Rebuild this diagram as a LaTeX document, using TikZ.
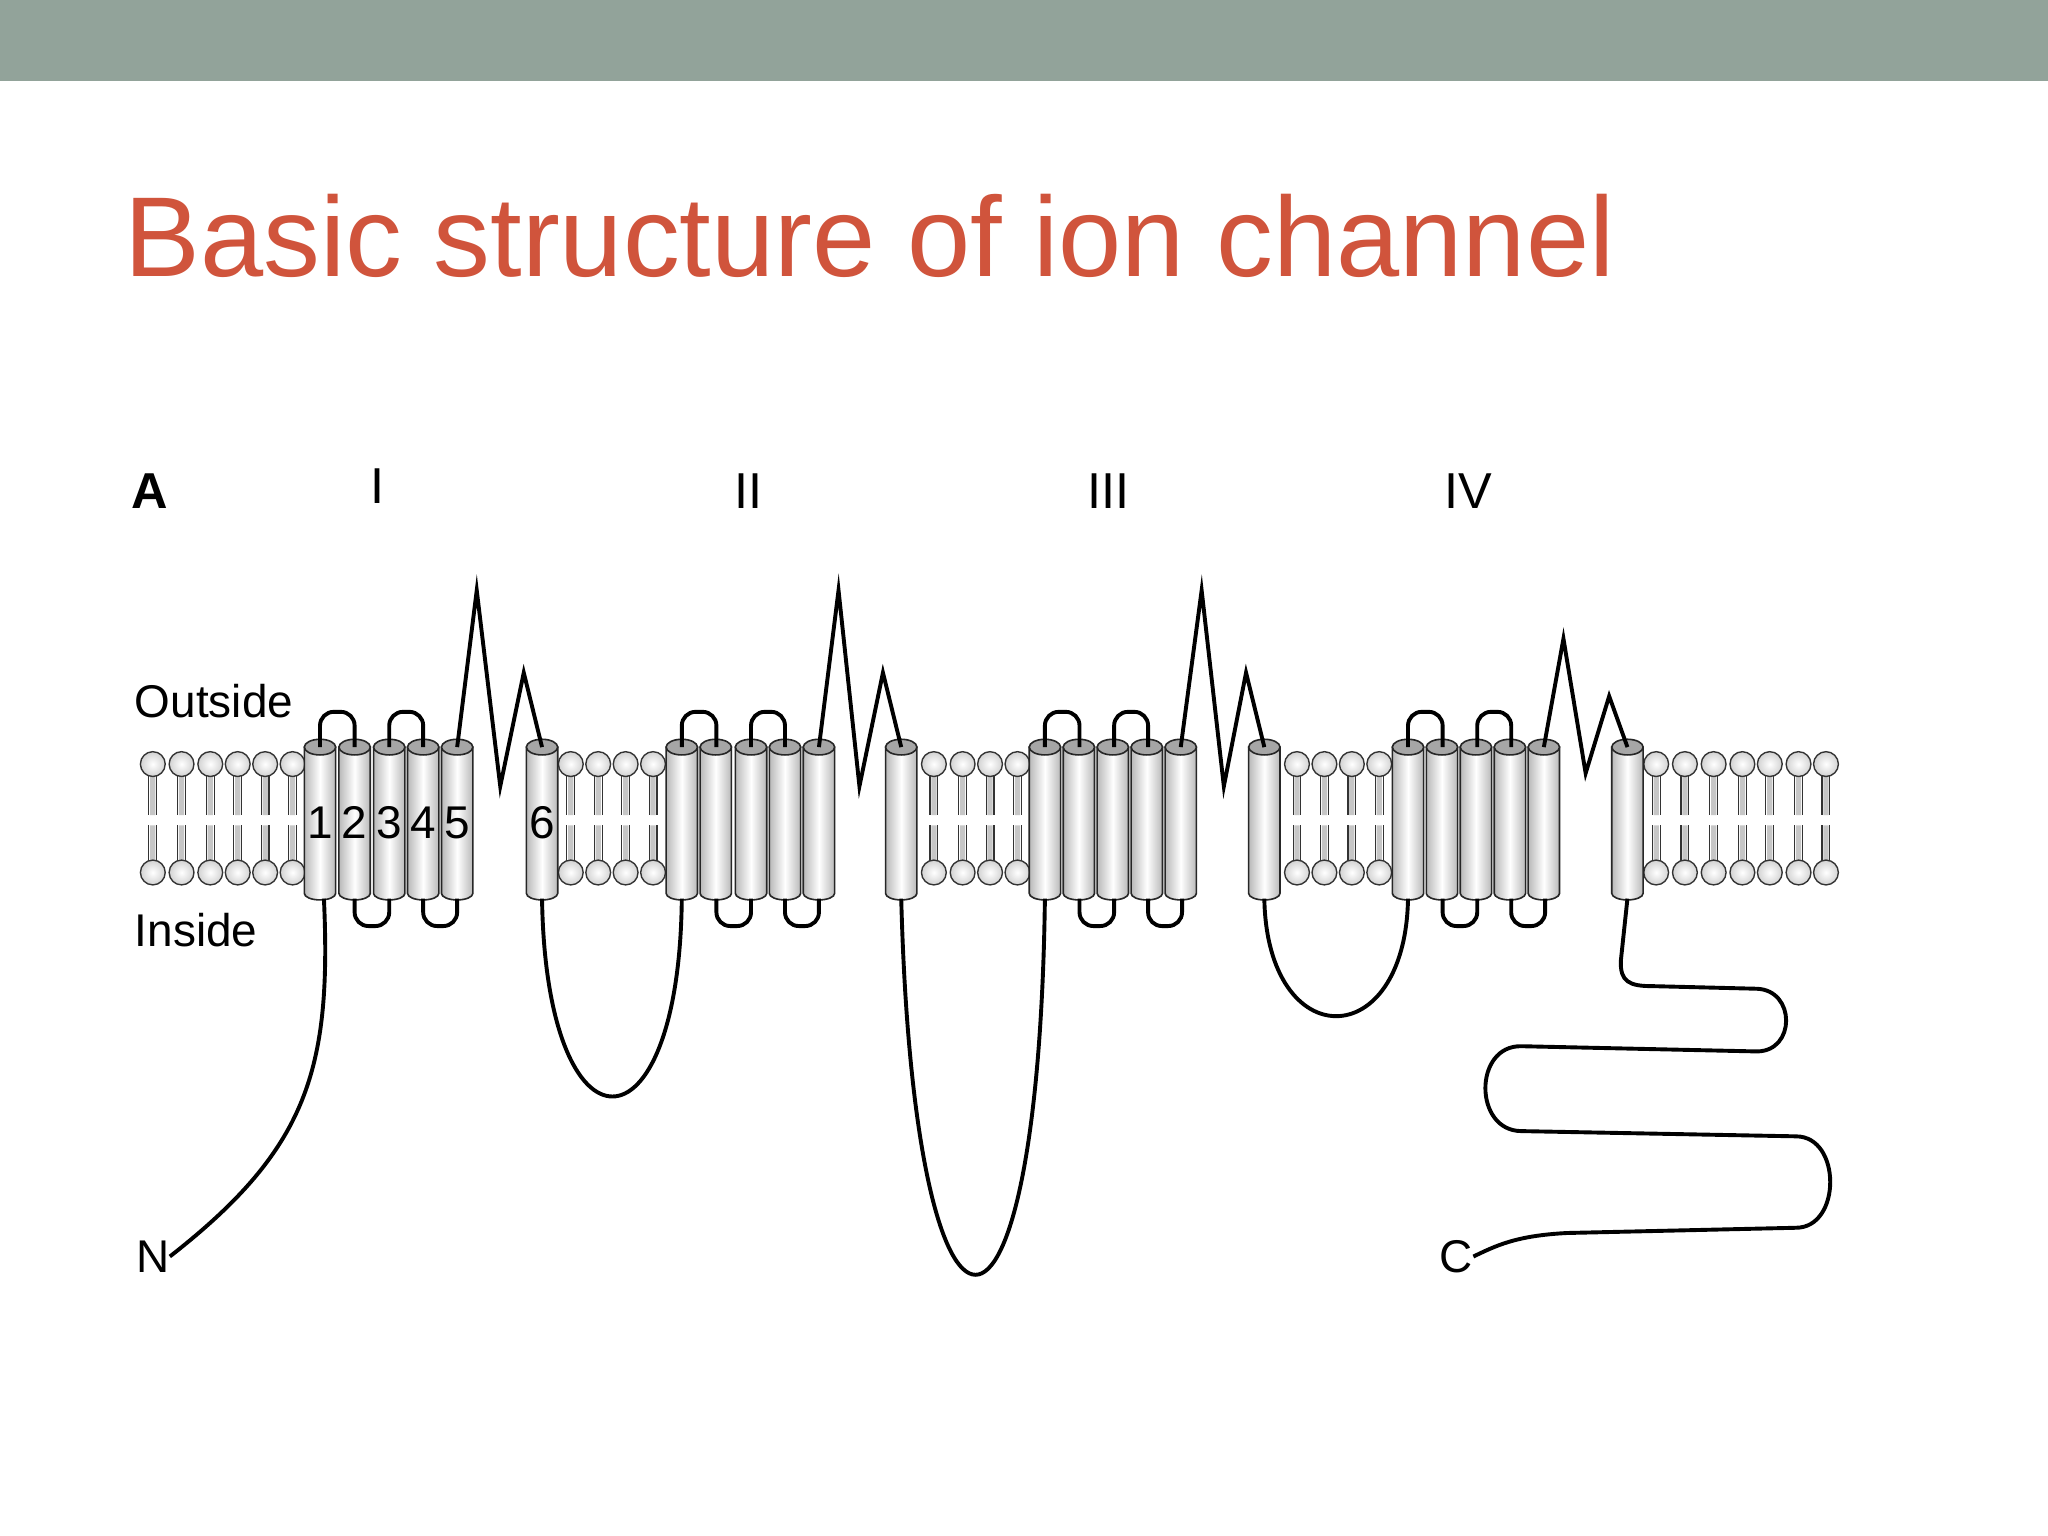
\documentclass[tikz,border=0pt]{standalone}
\usepackage{fontspec}
\setmainfont{Liberation Sans}
\definecolor{band}{RGB}{146,163,154}
\definecolor{ttl}{RGB}{208,84,60}
\begin{document}
\begin{tikzpicture}[x=0.02cm,y=-0.02cm,
  lbl/.style={font=\fontsize{20}{22}\selectfont,inner sep=0},
  loopline/.style={line width=1.7pt,line join=miter},
  head/.style={draw=black!80,line width=0.6pt,inner color=white,outer color=gray!35}]
\useasboundingbox (0,0) rectangle (1568,1176);
\fill[white] (0,0) rectangle (1568,1176);
\fill[band] (0,0) rectangle (1568,62);
\node[anchor=base west,inner sep=0,text=ttl,font=\fontsize{49.5}{55}\selectfont] (title) at (95,212) {Basic structure of ion channel};
% labels
\node[lbl,font=\fontsize{22}{24}\selectfont\bfseries] (A) at (115,376) {A};
\node[lbl,font=\fontsize{22}{24}\selectfont] (d1) at (289,372) {I};
\node[lbl,font=\fontsize{22}{24}\selectfont] (d2) at (573,376) {II};
\node[lbl,font=\fontsize{22}{24}\selectfont] (d3) at (849,376) {III};
\node[lbl,font=\fontsize{22}{24}\selectfont] (d4) at (1124,376) {IV};
\node[lbl,anchor=west] (out) at (103,537) {Outside};
\node[lbl,anchor=west] (in) at (103,712) {Inside};
\node[lbl] (N) at (117,962) {N};
\node[lbl] (C) at (1115,962) {C};
% lipids
\def\lipid#1{%
  \draw[black!80,line width=0.5pt] (#1-3,594) -- (#1-3,624) (#1+3,594) -- (#1+3,624)
     (#1-3,632) -- (#1-3,659) (#1+3,632) -- (#1+3,659);
  \fill[gray!45] (#1-2,594) rectangle (#1+2,624) (#1-2,632) rectangle (#1+2,659);
  \path[head] (#1,585) circle (9.5);
  \path[head] (#1,668) circle (9.5);}
\foreach \x in {117,139,161,182,203,224,437,458,479,500,715,737,758,779,993,1014,1035,1056,1268,1290,1312,1334,1355,1377,1398}{\lipid{\x}}
% cylinders
\def\cyl#1{%
  \path[left color=gray!55,right color=gray!55,middle color=white,draw=black!85,line width=0.7pt]
    (#1-12,572) -- (#1-12,684) arc[start angle=180,end angle=360,x radius=12,y radius=-5] -- (#1+12,572) -- cycle;
  \path[fill=gray!70,draw=black!85,line width=0.7pt] (#1,572) ellipse[x radius=12,y radius=6];}
\foreach \x in {245,271.5,298,324,350,415,522,548,575,601,627,690,800,826,852,878,904,968,1078,1104,1130,1156,1182,1246}{\cyl{\x}}
\foreach \n/\x in {1/245,2/271.5,3/298,4/324,5/350,6/415}{\node[lbl] (h\n) at (\x,630) {\n};}
% small loops
\foreach \o in {0,277,555,833}{
  \draw[loopline,rounded corners=6] (245+\o,572) -- (245+\o,545) -- (271.5+\o,545) -- (271.5+\o,572);
  \draw[loopline,rounded corners=6] (298+\o,572) -- (298+\o,545) -- (324+\o,545) -- (324+\o,572);
  \draw[loopline,rounded corners=6] (271.5+\o,688) -- (271.5+\o,709) -- (298+\o,709) -- (298+\o,688);
  \draw[loopline,rounded corners=6] (324+\o,688) -- (324+\o,709) -- (350+\o,709) -- (350+\o,688);
}
% pore loops
\draw[loopline] (350,572) -- (365,452) -- (383,602) -- (401,515) -- (415,572);
\draw[loopline] (627,572) -- (642,452) -- (658,602) -- (676,515) -- (690,572);
\draw[loopline] (904,572) -- (920,452) -- (937,602) -- (954,515) -- (968,572);
\draw[loopline] (1182,572) -- (1197,489) -- (1214,592) -- (1232,533) -- (1246,572);
% intracellular
\draw[loopline] (248,688) .. controls (254,820) and (235,880) .. (N.east);
\draw[loopline] (415,688) .. controls (418,890) and (520,890) .. (522,688);
\draw[loopline] (690,688) .. controls (700,1072) and (795,1072) .. (800,688);
\draw[loopline] (968,688) .. controls (970,808) and (1076,808) .. (1078,688);
\draw[loopline] (1246,688) -- (1241,735) .. controls (1240,752) and (1248,755) .. (1265,755) -- (1345,757) .. controls (1375,758) and (1375,805) .. (1345,805) -- (1165,801) .. controls (1128,800) and (1128,866) .. (1165,866) -- (1375,870) .. controls (1410,870) and (1410,940) .. (1375,940) -- (1200,944) .. controls (1160,946) and (1145,954) .. (C.east);
\end{tikzpicture}
\end{document}
